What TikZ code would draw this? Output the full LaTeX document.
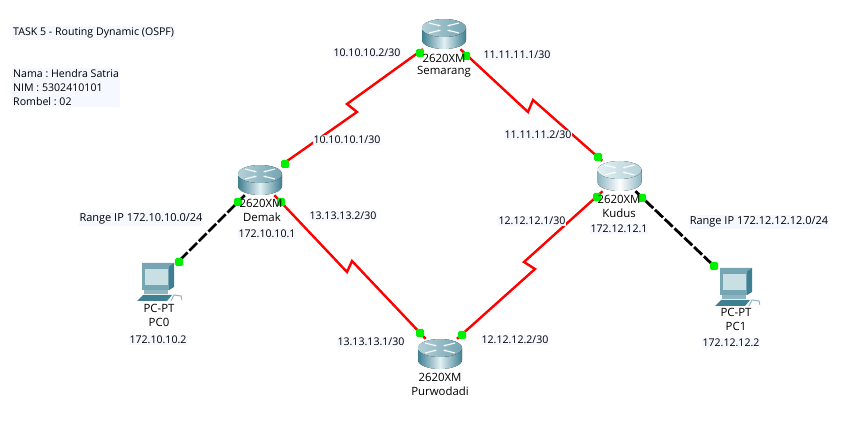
\documentclass[tikz,border=0pt]{standalone}
\usepackage{fontspec}
\setmainfont{Open Sans}
\frenchspacing
\usetikzlibrary{arrows.meta}
\definecolor{tagbg}{HTML}{F6F8FF}
\definecolor{linkred}{HTML}{FF0000}
\definecolor{portgreen}{HTML}{00F000}
\definecolor{tealdark}{HTML}{3F7F92}
\definecolor{tealmid}{HTML}{8DB6C2}
\definecolor{tealpale}{HTML}{B4D0D8}
\definecolor{tealshine}{HTML}{E2F0F3}
% router body: #1 dark side, #2 top, #3 shine
\newcommand{\routericon}[3]{
  \fill[left color=#1,right color=#1,middle color=#3] (-22,-6) -- (-22,6) arc[start angle=180,end angle=0,x radius=22,y radius=9] -- (22,-6) -- cycle;
  \fill[left color=#2,right color=#2!45!#1] (0,-6) ellipse[x radius=22,y radius=9];
  \foreach \sx/\sy in {-1/-1,1/-1,-1/1,1/1}
    \draw[white!85!#2,line width=1.2pt,-{Stealth[length=3pt]}] (\sx*15,\sy*5-6) -- (\sx*3,\sy*2-6);
}
\newcommand{\pcicon}{
  \fill[tealmid!70!tealdark] (-16,-19) -- (16,-19) -- (11,-16) -- (11,8) -- (-16,8) -- cycle;
  \fill[tealdark] (16,-19) -- (11,-16) -- (11,8) -- (16,5) -- cycle;
  \fill[tealshine!70!tealmid] (-13,-13) -- (10,-13) -- (10,3) -- (-13,3) -- cycle;
  \fill[tealmid] (-14,8) -- (10,8) -- (10,12) -- (-14,12) -- cycle;
  \fill[tealdark] (-21,19) -- (-15,13) -- (14,13) -- (9,19) -- cycle;
  \draw[tealmid,line width=1pt] (13,19) -- (16,13) -- (23,14) -- (24,18);
}
\tikzset{
  router/.style={minimum width=45,minimum height=30,inner sep=0,path picture={
    \begin{scope}[shift={(path picture bounding box.center)}]\routericon{tealdark}{tealpale}{tealshine}\end{scope}}},
  routerlit/.style={minimum width=45,minimum height=30,inner sep=0,path picture={
    \begin{scope}[shift={(path picture bounding box.center)}]\routericon{tealmid}{tealshine}{white}\end{scope}}},
  pc/.style={minimum width=48,minimum height=38,inner sep=0,path picture={
    \begin{scope}[shift={(path picture bounding box.center)}]\pcicon\end{scope}}},
  serial/.style={draw=linkred,line width=2.4pt},
  ether/.style={draw=black,line width=2.8pt,dash pattern=on 11pt off 2.5pt},
  port/.style={fill=portgreen,rounded corners=1.5pt,minimum size=8,inner sep=0},
  tag/.style={fill=tagbg,inner xsep=1pt,inner ysep=1.5pt,font=\fontsize{10.6}{14}\selectfont,text=black},
  devlabel/.style={inner sep=0,font=\fontsize{11.4}{13}\selectfont,text=black},
}
\begin{document}
\begin{tikzpicture}[x=1pt,y=-1pt]
\useasboundingbox[fill=white] (0,0) rectangle (859,427);

\node[router] (Semarang) at (444,34) {};
\node[router] (Demak) at (260,180) {};
\node[routerlit] (Kudus) at (619.5,176) {};
\node[router] (Purwodadi) at (440,354) {};
\node[pc] (PC0) at (158,282) {};
\node[pc] (PC1) at (736,287) {};

\coordinate (zig-1a) at (347,104);
\coordinate (zig-1b) at (357,112);
\coordinate (zig-2a) at (528,112);
\coordinate (zig-2b) at (533,100);
\coordinate (zig-3a) at (347,272);
\coordinate (zig-3b) at (352,261);
\coordinate (zig-4a) at (524,262);
\coordinate (zig-4b) at (535,269);

\draw[serial] (Semarang) -- (zig-1a) -- (zig-1b) -- (Demak);
\draw[serial] (Semarang) -- (zig-2a) -- (zig-2b) -- (Kudus);
\draw[serial] (Demak) -- (zig-3a) -- (zig-3b) -- (Purwodadi);
\draw[serial] (Kudus) -- (zig-4a) -- (zig-4b) -- (Purwodadi);
\draw[ether] (Demak) -- (PC0);
\draw[ether] (Kudus) -- (PC1);

\node[port] (p-1) at (420,53) {};
\node[port] (p-2) at (466,56) {};
\node[port] (p-3) at (285,164) {};
\node[port] (p-4) at (598,157) {};
\node[port] (p-5) at (238,202) {};
\node[port] (p-6) at (281,202) {};
\node[port] (p-7) at (597,197) {};
\node[port] (p-8) at (642,198) {};
\node[port] (p-9) at (420,333) {};
\node[port] (p-10) at (462,335) {};
\node[port] (p-11) at (179,262) {};
\node[port] (p-12) at (714,266) {};

\node[devlabel] (model-1) at (444,58) {2620XM};
\node[devlabel] (name-1) at (444,72) {Semarang};
\node[devlabel] (model-2) at (261,203) {2620XM};
\node[devlabel] (name-2) at (262,217) {Demak};
\node[devlabel] (model-3) at (619,199) {2620XM};
\node[devlabel] (name-3) at (619,213) {Kudus};
\node[devlabel] (model-4) at (440,377) {2620XM};
\node[devlabel] (name-4) at (440,391) {Purwodadi};
\node[devlabel] (model-5) at (159,308) {PC-PT};
\node[devlabel] (name-5) at (159,322) {PC0};
\node[devlabel] (model-6) at (736,312) {PC-PT};
\node[devlabel] (name-6) at (736,326) {PC1};

\node[tag] (ip-1) at (367,53) {10.10.10.2/30};
\node[tag] (ip-2) at (517,55) {11.11.11.1/30};
\node[tag] (ip-3) at (347,140) {10.10.10.1/30};
\node[tag] (ip-4) at (538,135) {11.11.11.2/30};
\node[tag] (ip-5) at (343,216) {13.13.13.2/30};
\node[tag] (ip-6) at (532,221) {12.12.12.1/30};
\node[tag] (ip-7) at (371,342) {13.13.13.1/30};
\node[tag] (ip-8) at (515,340) {12.12.12.2/30};
\node[tag] (ip-9) at (267,234) {172.10.10.1};
\node[tag] (ip-10) at (619,229) {172.12.12.1};
\node[tag] (ip-11) at (158,340) {172.10.10.2};
\node[tag] (ip-12) at (731,343) {172.12.12.2};
\node[tag,font=\fontsize{11}{14}\selectfont] (range-1) at (141,219) {Range IP 172.10.10.0/24};
\node[tag,font=\fontsize{11}{14}\selectfont] (range-2) at (759,222) {Range IP 172.12.12.12.0/24};

\node[tag,anchor=west] (task) at (12,33) {TASK 5 - Routing Dynamic (OSPF)};
\node[tag,anchor=north west,minimum width=104,align=left] (student) at (12,68) {Nama : Hendra Satria\\NIM : 5302410101\\Rombel : 02};
\end{tikzpicture}
\end{document}
